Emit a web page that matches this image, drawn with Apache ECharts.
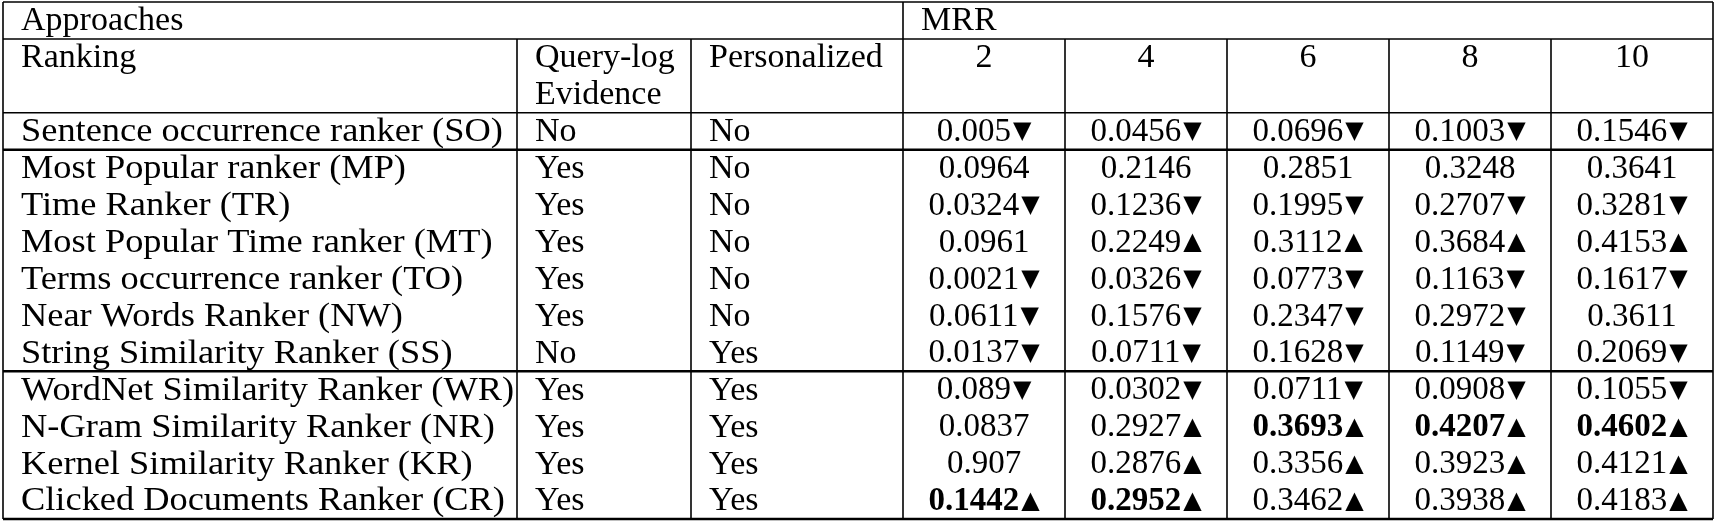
<!DOCTYPE html>
<html>
<head>
<meta charset="utf-8">
<script src="https://cdn.jsdelivr.net/npm/echarts@6/dist/echarts.min.js"></script>
<style>
  html, body { margin: 0; padding: 0; background: #fff; }
  #chart { width: 1717px; height: 523px; }
</style>
</head>
<body>
<div id="chart"></div>
<script>
// table content
const rankers = [
  "Sentence occurrence ranker (SO)",
  "Most Popular ranker (MP)",
  "Time Ranker (TR)",
  "Most Popular Time ranker (MT)",
  "Terms occurrence ranker (TO)",
  "Near Words Ranker (NW)",
  "String Similarity Ranker (SS)",
  "WordNet Similarity Ranker (WR)",
  "N-Gram Similarity Ranker (NR)",
  "Kernel Similarity Ranker (KR)",
  "Clicked Documents Ranker (CR)"
];
const queryLog = ["No", "Yes", "Yes", "Yes", "Yes", "Yes", "No", "Yes", "Yes", "Yes", "Yes"];
const personalized = ["No", "No", "No", "No", "No", "No", "Yes", "Yes", "Yes", "Yes", "Yes"];

const cutoffs = [2, 4, 6, 8, 10];
const mrr2 = [0.005, 0.0964, 0.0324, 0.0961, 0.0021, 0.0611, 0.0137, 0.089, 0.0837, 0.907, 0.1442];
const mrr4 = [0.0456, 0.2146, 0.1236, 0.2249, 0.0326, 0.1576, 0.0711, 0.0302, 0.2927, 0.2876, 0.2952];
const mrr6 = [0.0696, 0.2851, 0.1995, 0.3112, 0.0773, 0.2347, 0.1628, 0.0711, 0.3693, 0.3356, 0.3462];
const mrr8 = [0.1003, 0.3248, 0.2707, 0.3684, 0.1163, 0.2972, 0.1149, 0.0908, 0.4207, 0.3923, 0.3938];
const mrr10 = [0.1546, 0.3641, 0.3281, 0.4153, 0.1617, 0.3611, 0.2069, 0.1055, 0.4602, 0.4121, 0.4183];

// v = significantly worse, ^ = significantly better
const sig2 = ["v", "", "v", "", "v", "v", "v", "v", "", "", "^"];
const sig4 = ["v", "", "v", "^", "v", "v", "v", "v", "^", "^", "^"];
const sig6 = ["v", "", "v", "^", "v", "v", "v", "v", "^", "^", "^"];
const sig8 = ["v", "", "v", "^", "v", "v", "v", "v", "^", "^", "^"];
const sig10 = ["v", "", "v", "^", "v", "", "v", "v", "^", "^", "^"];

// row index of the bold (best) value per cutoff
const bestRow = [10, 10, 8, 8, 8];

// layout (table units: x in px, y in rows)
const colEdges = [0, 514, 688, 900, 1062, 1224, 1386, 1548, 1710];
const firstDataRow = 3;
const totalRows = 14;
const pad = 18;
const FONT = "Liberation Serif";
const SIZE = 34;
const STRETCH = 1.07; // long ranker names run wider in the original's Computer Modern

const mrrCols = [mrr2, mrr4, mrr6, mrr8, mrr10];
const sigCols = [sig2, sig4, sig6, sig8, sig10];

// rules: [x0, y0, x1, y1, width]
const W = colEdges[colEdges.length - 1];
const rules = [
  [0, 0, W, 0, 1.6],
  [0, 1, W, 1, 1.6],
  [0, 3, W, 3, 1.6],
  [0, 4, W, 4, 2.4],
  [0, 10, W, 10, 2.4],
  [0, totalRows, W, totalRows, 2.4],
  [0, 0, 0, totalRows, 1.6],
  [W, 0, W, totalRows, 1.6],
  [colEdges[3], 0, colEdges[3], totalRows, 1.6]
];
[1, 2, 4, 5, 6, 7].forEach((c) => rules.push([colEdges[c], 1, colEdges[c], totalRows, 1.6]));

// cells
const cells = [];
const addCell = (c0, c1, row, text, align, opts = {}) =>
  cells.push({ x0: colEdges[c0], x1: colEdges[c1], row, text, align, ...opts });

addCell(0, 3, 0, "Approaches", "left");
addCell(3, 8, 0, "MRR", "left");
addCell(0, 1, 1, "Ranking", "left");
addCell(1, 2, 1, "Query-log", "left");
addCell(1, 2, 2, "Evidence", "left");
addCell(2, 3, 1, "Personalized", "left");
cutoffs.forEach((k, i) => addCell(3 + i, 4 + i, 1, String(k), "center"));

rankers.forEach((name, r) => {
  const row = firstDataRow + r;
  addCell(0, 1, row, name, "left", { stretch: true });
  addCell(1, 2, row, queryLog[r], "left");
  addCell(2, 3, row, personalized[r], "left");
  mrrCols.forEach((col, i) => {
    const tag = bestRow[i] === r ? "b" : "n";
    const s = sigCols[i][r];
    const mark = s === "v" ? "{t|\u25BC}" : s === "^" ? "{t|\u25B2}" : "";
    addCell(3 + i, 4 + i, row, "{" + tag + "|" + col[r] + "}" + mark, "center", { rich: true });
  });
});

const richStyles = {
  n: { fontFamily: FONT, fontSize: SIZE - 1, fill: "#000" },
  b: { fontFamily: FONT, fontSize: SIZE - 1, fontWeight: "bold", fill: "#000" },
  t: { fontFamily: "DejaVu Sans", fontSize: 24, fill: "#000", padding: [0, 0, 0, 2] }
};

const chart = echarts.init(document.getElementById("chart"));
chart.setOption({
  animation: false,
  grid: { left: 3, right: 4, top: 2, bottom: 4 },
  xAxis: { type: "value", min: 0, max: W, show: false },
  yAxis: { type: "value", min: 0, max: totalRows, inverse: true, show: false },
  series: [
    {
      type: "custom",
      data: rules,
      silent: true,
      renderItem: (params, api) => {
        const p0 = api.coord([api.value(0), api.value(1)]);
        const p1 = api.coord([api.value(2), api.value(3)]);
        return {
          type: "line",
          shape: { x1: p0[0], y1: p0[1], x2: p1[0], y2: p1[1] },
          style: { stroke: "#000", lineWidth: api.value(4) }
        };
      }
    },
    {
      type: "custom",
      data: cells.map((c) => [c.x0, c.x1, c.row]),
      silent: true,
      renderItem: (params, api) => {
        const c = cells[params.dataIndex];
        const left = api.coord([api.value(0), api.value(2) + 0.5]);
        const right = api.coord([api.value(1), api.value(2) + 0.5]);
        const x = c.align === "left" ? left[0] + pad : (left[0] + right[0]) / 2;
        return {
          type: "text",
          x: x,
          y: left[1] + 1,
          scaleX: c.stretch ? STRETCH : 1,
          style: {
            text: c.text,
            fontFamily: FONT,
            fontSize: SIZE,
            fill: "#000",
            align: c.align,
            verticalAlign: "middle",
            rich: c.rich ? richStyles : undefined
          }
        };
      }
    }
  ]
});
</script>
</body>
</html>
